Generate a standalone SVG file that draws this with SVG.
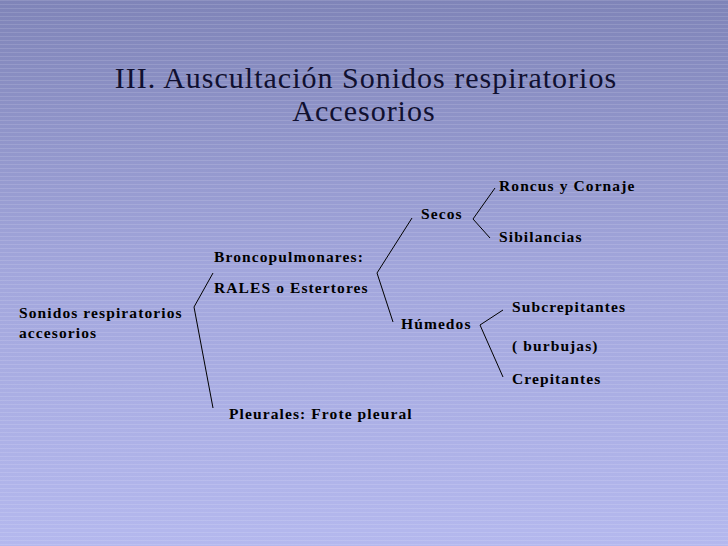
<svg xmlns="http://www.w3.org/2000/svg" width="728" height="546" viewBox="0 0 728 546">
<defs>
<linearGradient id="bg" x1="0" y1="0" x2="0" y2="1">
<stop offset="0" stop-color="#7f84b8"/>
<stop offset="0.5" stop-color="#a2a6dc"/>
<stop offset="1" stop-color="#b4b8ee"/>
</linearGradient>
<pattern id="st" width="8" height="4" patternUnits="userSpaceOnUse">
<rect width="8" height="1" fill="#ffffff" opacity="0.12"/>
</pattern>
</defs>
<style>
.t{font-family:"Liberation Serif",serif;font-weight:bold;font-size:15.5px;letter-spacing:1.1px;fill:#000}
.h{font-family:"Liberation Serif",serif;font-size:30px;letter-spacing:1px;fill:#101030}
.c{fill:none;stroke:#000;stroke-width:1}
</style>
<rect width="728" height="546" fill="url(#bg)"/>
<rect width="728" height="546" fill="url(#st)"/>
<text class="h" x="366" y="88" text-anchor="middle">III. Auscultación Sonidos respiratorios</text>
<text class="h" x="364" y="121" text-anchor="middle">Accesorios</text>
<g id="connectors">
<polyline class="c" points="213,273 194,307 213,408"/>
<polyline class="c" points="412,218 377,273 393,322"/>
<polyline class="c" points="495,188 473,219 490,238"/>
<polyline class="c" points="503,310 480,325 503,377"/>
</g>
<g id="root"><text class="t" x="19" y="318">Sonidos respiratorios</text><text class="t" x="19" y="338">accesorios</text></g>
<g id="bronco"><text class="t" x="214" y="262">Broncopulmonares:</text><text class="t" x="214" y="293">RALES o Estertores</text></g>
<g id="pleurales"><text class="t" x="229" y="419">Pleurales: Frote pleural</text></g>
<g id="secos"><text class="t" x="421" y="219">Secos</text></g>
<g id="humedos"><text class="t" x="401" y="329">Húmedos</text></g>
<g id="roncus"><text class="t" x="499" y="191">Roncus y Cornaje</text></g>
<g id="sibilancias"><text class="t" x="499" y="242">Sibilancias</text></g>
<g id="subcrep"><text class="t" x="512" y="312">Subcrepitantes</text><text class="t" x="512" y="351">( burbujas)</text></g>
<g id="crep"><text class="t" x="512" y="384">Crepitantes</text></g>
</svg>
